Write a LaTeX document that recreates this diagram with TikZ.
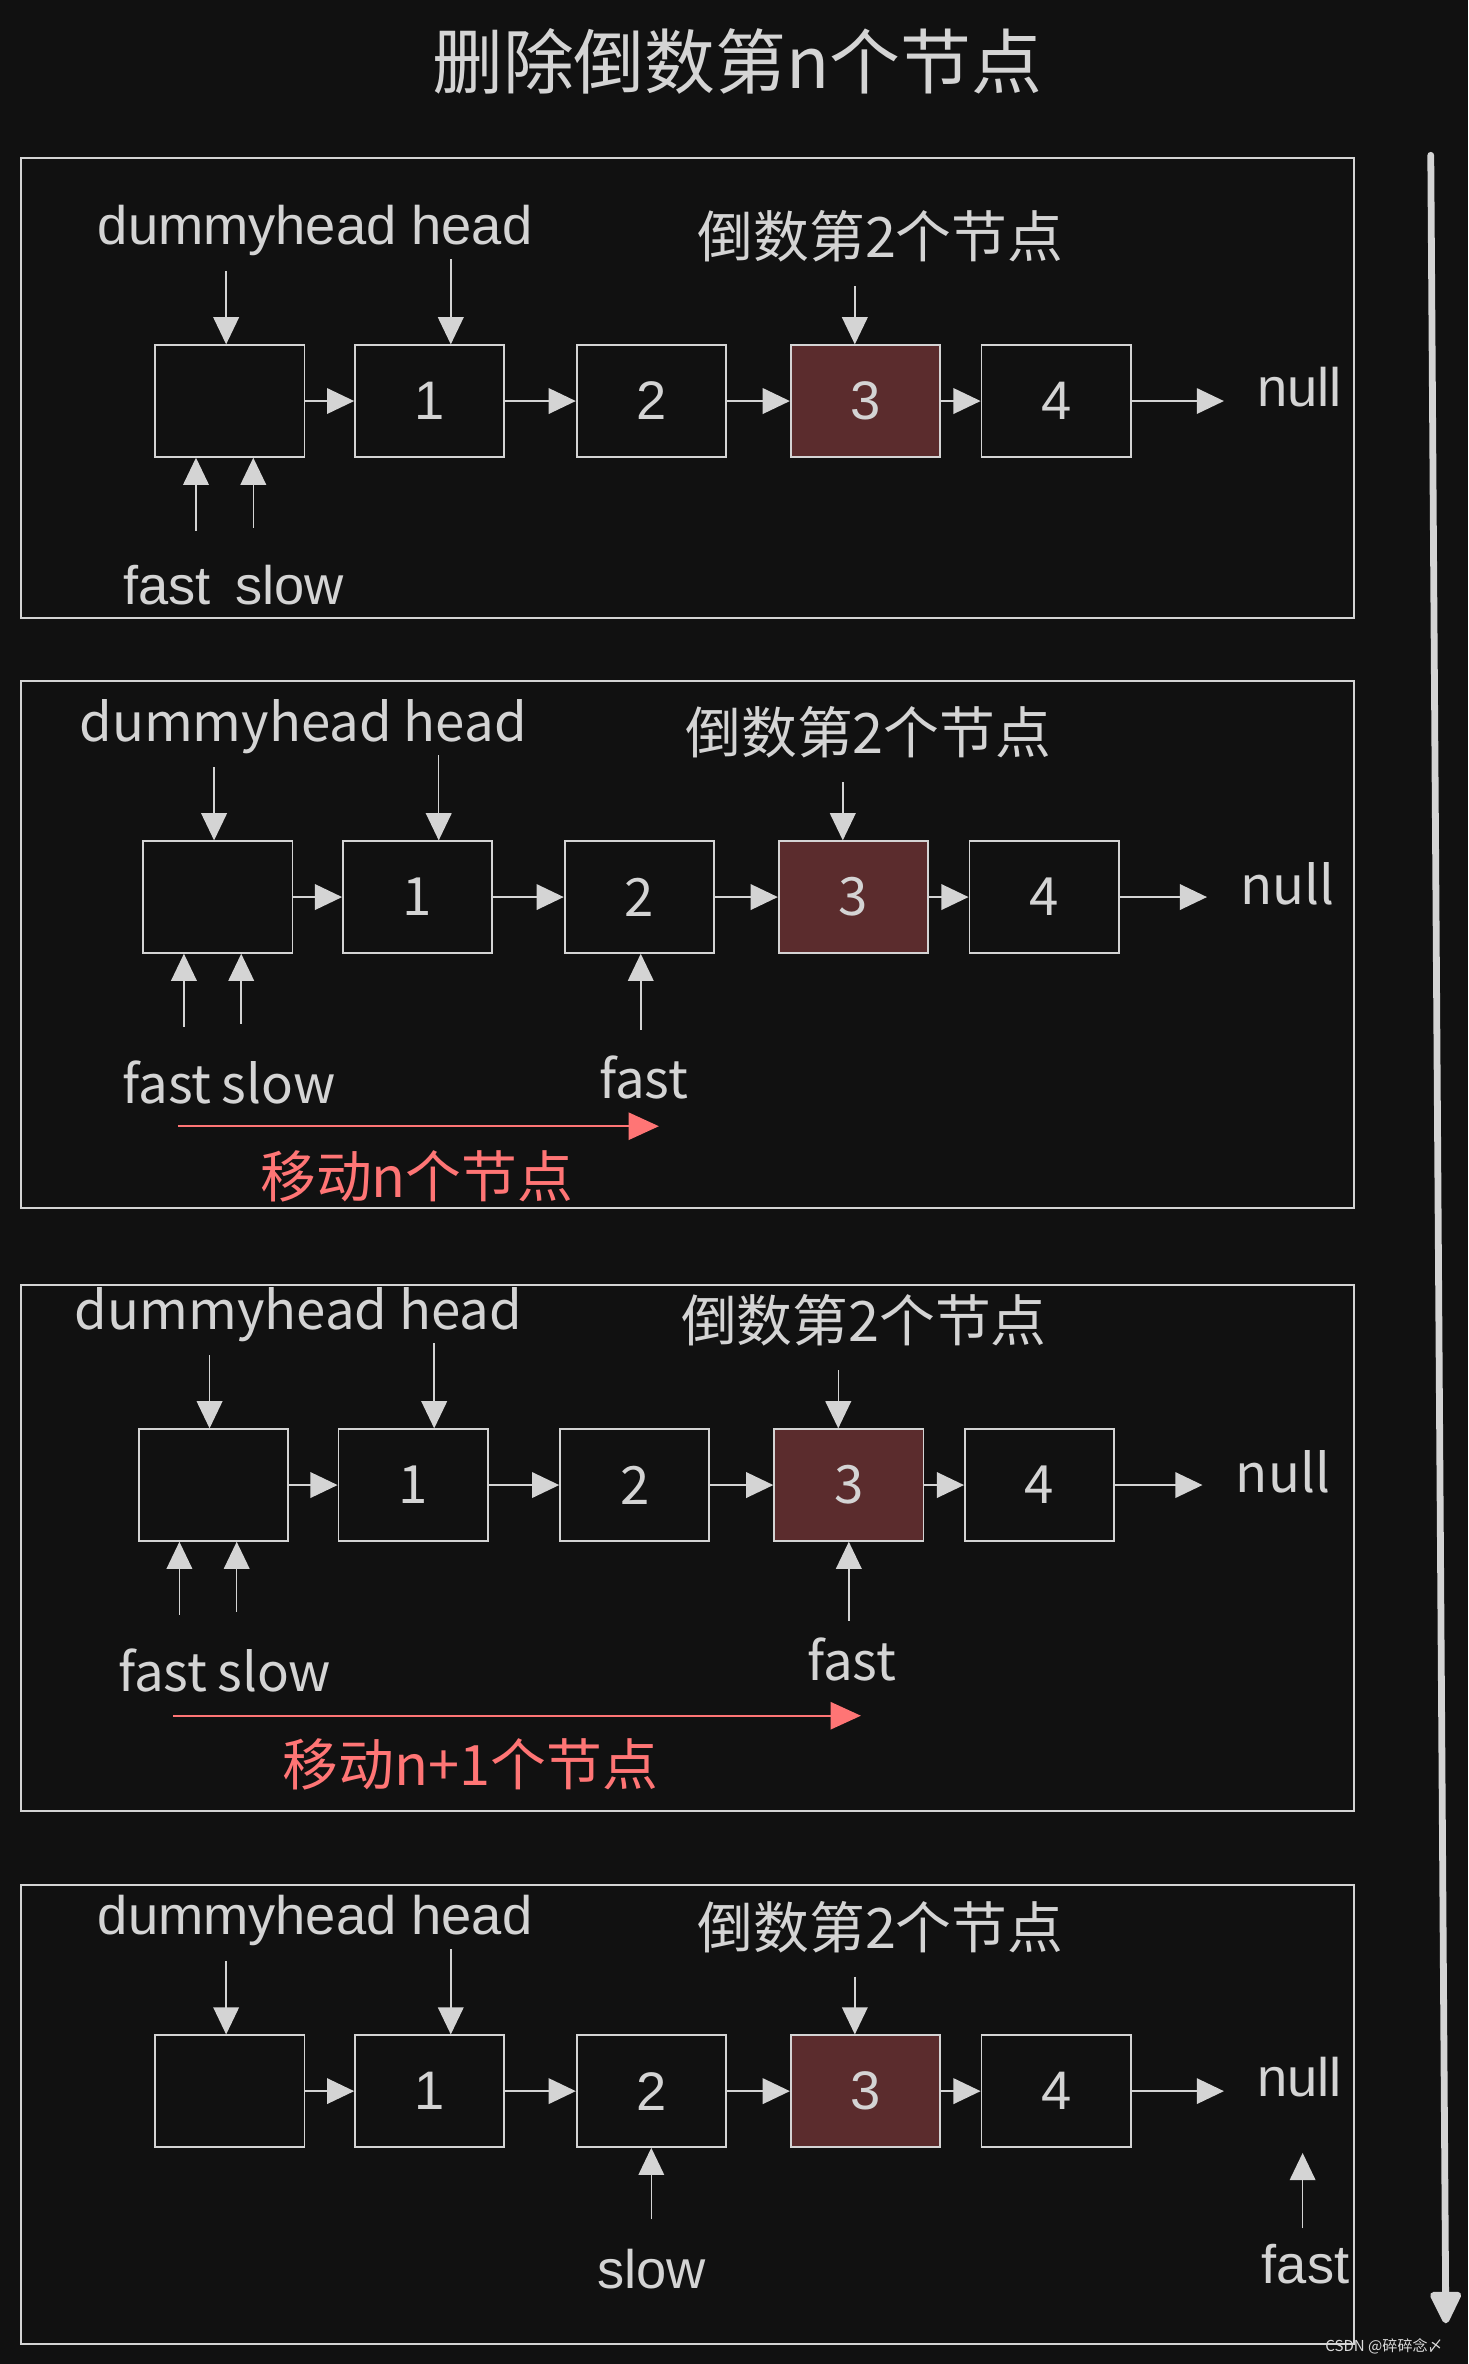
\documentclass[tikz,border=0pt]{standalone}
\usepackage{fontspec}
\setmainfont{Liberation Sans}
\newfontfamily\cjk{Noto Sans CJK SC}
\usetikzlibrary{arrows.meta,calc}

\definecolor{bg}{HTML}{111111}
\definecolor{ink}{HTML}{D4D4D4}
\definecolor{hit}{HTML}{5B2C2D}
\definecolor{mv}{HTML}{FF7575}

\newcommand\pfont{\fontsize{36}{40}\selectfont}

\begin{document}
\begin{tikzpicture}[x=1pt,y=-1pt,
    cell/.style={draw=ink,line width=1.2pt,minimum width=99pt,minimum height=74pt,inner sep=0pt,text=ink,font=\pfont},
    target/.style={cell,fill=hit},
    lbl/.style={inner sep=0pt,text=ink,font=\pfont},
    klbl/.style={inner sep=0pt,text=ink,font=\cjk\fontsize{37}{40}\selectfont},
    mvlbl/.style={inner sep=0pt,text=mv,font=\cjk\fontsize{37}{40}\selectfont},
    ptr/.style={ink,line width=1pt,-{Triangle[length=18pt,width=17pt]}},
    move/.style={mv,line width=1.3pt,-{Triangle[length=20pt,width=18pt]}},
    frame/.style={draw=ink,line width=1.3pt}
  ]
    % background and page size
    \fill[bg] (0,0) rectangle (974,1568);
    \useasboundingbox (0,0) rectangle (974,1568);

    % title
    \node[inner sep=0pt,text=ink,font=\cjk\fontsize{47}{50}\selectfont] (title) at (489,41) {删除倒数第n个节点};

    % panel frames
    \draw[frame] (14,105) rectangle (898,410);
    \draw[frame] (14,452) rectangle (898,801);
    \draw[frame] (14,852) rectangle (898,1201);
    \draw[frame] (14,1250) rectangle (898,1555);

    % step 1: fast and slow on dummyhead
    \node[cell] (a0) at (152.5,266) {};
    \node[cell] (a1) at (285,266) {1};
    \node[cell] (a2) at (432,266) {2};
    \node[target] (a3) at (574,266) {3};
    \node[cell] (a4) at (700.5,266) {4};
    \node[lbl] (anull) at (862,257) {null};
    \foreach \i/\j in {0/1,1/2,2/3,3/4} \draw[ptr] (a\i) -- (a\j);
    \draw[ptr,shorten >=22pt] (a4.east) -- (a4.east -| anull.west);
    \node[lbl] (adh) at (209,153) {dummyhead head};
    \node[klbl] (akth) at (584,157) {倒数第2个节点};
    \coordinate (adhp) at (150,180);
    \coordinate (ahp) at (299,172);
    \coordinate (akp) at (567,190);
    \draw[ptr] (adhp) -- (adhp |- a0.north);
    \draw[ptr] (ahp) -- (ahp |- a1.north);
    \draw[ptr] (akp) -- (akp |- a3.north);
    \coordinate (afp) at (130,352);
    \coordinate (asp) at (168,350);
    \draw[ptr] (afp) -- (afp |- a0.south);
    \draw[ptr] (asp) -- (asp |- a0.south);
    \node[lbl] (afs) at (155,388) {fast\ \,slow};

    % step 2: fast moves n nodes
    \begin{scope}[shift={(-8,329)}]
      \renewcommand\pfont{\cjk\fontsize{35}{40}\selectfont}
      \node[cell] (b0) at (152.5,266) {};
      \node[cell] (b1) at (285,266) {1};
      \node[cell] (b2) at (432,266) {2};
      \node[target] (b3) at (574,266) {3};
      \node[cell] (b4) at (700.5,266) {4};
      \node[lbl] (bnull) at (862,257) {null};
      \foreach \i/\j in {0/1,1/2,2/3,3/4} \draw[ptr] (b\i) -- (b\j);
      \draw[ptr,shorten >=22pt] (b4.east) -- (b4.east -| bnull.west);
      \node[lbl] (bdh) at (209,153) {dummyhead head};
      \node[klbl] (bkth) at (584,157) {倒数第2个节点};
      \coordinate (bdhp) at (150,180);
      \coordinate (bhp) at (299,172);
      \coordinate (bkp) at (567,190);
      \draw[ptr] (bdhp) -- (bdhp |- b0.north);
      \draw[ptr] (bhp) -- (bhp |- b1.north);
      \draw[ptr] (bkp) -- (bkp |- b3.north);
      \coordinate (bfp) at (130,352);
      \coordinate (bsp) at (168,350);
      \draw[ptr] (bfp) -- (bfp |- b0.south);
      \draw[ptr] (bsp) -- (bsp |- b0.south);
      \node[lbl] (bfs) at (160,389) {fast\kern-1pt\ slow};
      \coordinate (bf2p) at (433,354);
      \draw[ptr] (bf2p) -- (bf2p |- b2.south);
      \node[lbl] (bfast) at (435,386) {fast};
      \coordinate (bm0) at (126,418);
      \coordinate (bm1) at (445,418);
      \draw[move] (bm0) -- (bm1);
      \node[mvlbl] (bmove) at (284.5,451) {移动n个节点};
    \end{scope}

    % step 3: fast moves n+1 nodes
    \begin{scope}[shift={(-11,719)}]
      \renewcommand\pfont{\cjk\fontsize{35}{40}\selectfont}
      \node[cell] (c0) at (152.5,266) {};
      \node[cell] (c1) at (285,266) {1};
      \node[cell] (c2) at (432,266) {2};
      \node[target] (c3) at (574,266) {3};
      \node[cell] (c4) at (700.5,266) {4};
      \node[lbl] (cnull) at (862,257) {null};
      \foreach \i/\j in {0/1,1/2,2/3,3/4} \draw[ptr] (c\i) -- (c\j);
      \draw[ptr,shorten >=22pt] (c4.east) -- (c4.east -| cnull.west);
      \node[lbl] (cdh) at (209,153) {dummyhead head};
      \node[klbl] (ckth) at (584,157) {倒数第2个节点};
      \coordinate (cdhp) at (150,180);
      \coordinate (chp) at (299,172);
      \coordinate (ckp) at (567,190);
      \draw[ptr] (cdhp) -- (cdhp |- c0.north);
      \draw[ptr] (chp) -- (chp |- c1.north);
      \draw[ptr] (ckp) -- (ckp |- c3.north);
      \coordinate (cfp) at (130,352);
      \coordinate (csp) at (168,350);
      \draw[ptr] (cfp) -- (cfp |- c0.south);
      \draw[ptr] (csp) -- (csp |- c0.south);
      \node[lbl] (cfs) at (160,389) {fast\kern-1pt\ slow};
      \coordinate (cf2p) at (574,356);
      \draw[ptr] (cf2p) -- (cf2p |- c3.south);
      \node[lbl] (cfast) at (576,382) {fast};
      \coordinate (cm0) at (126,419);
      \coordinate (cm1) at (582,419);
      \draw[move] (cm0) -- (cm1);
      \node[mvlbl] (cmove) at (323,451) {移动n+1个节点};
    \end{scope}

    % step 4: fast reaches null, slow stops before target
    \begin{scope}[shift={(0,1121)}]
      \node[cell] (d0) at (152.5,266) {};
      \node[cell] (d1) at (285,266) {1};
      \node[cell] (d2) at (432,266) {2};
      \node[target] (d3) at (574,266) {3};
      \node[cell] (d4) at (700.5,266) {4};
      \node[lbl] (dnull) at (862,257) {null};
      \foreach \i/\j in {0/1,1/2,2/3,3/4} \draw[ptr] (d\i) -- (d\j);
      \draw[ptr,shorten >=22pt] (d4.east) -- (d4.east -| dnull.west);
      \node[lbl] (ddh) at (209,153) {dummyhead head};
      \node[klbl] (dkth) at (584,157) {倒数第2个节点};
      \coordinate (ddhp) at (150,180);
      \coordinate (dhp) at (299,172);
      \coordinate (dkp) at (567,190);
      \draw[ptr] (ddhp) -- (ddhp |- d0.north);
      \draw[ptr] (dhp) -- (dhp |- d1.north);
      \draw[ptr] (dkp) -- (dkp |- d3.north);
      \coordinate (dsp) at (432,351);
      \draw[ptr] (dsp) -- (dsp |- d2.south);
      \node[lbl] (dslow) at (432,384) {slow};
      \coordinate (dfp) at (864,357);
      \coordinate (dft) at (864,307);
      \draw[ptr] (dfp) -- (dft);
      \node[lbl] (dfast) at (866,381) {fast};
    \end{scope}

    % time line on the right
    \coordinate (tl0) at (949,103);
    \coordinate (tl1) at (959,1541);
    \draw[ink,line width=4.5pt,line cap=round,-{Triangle[length=24pt,width=22pt,round]}] (tl0) -- (tl1);

    % watermark
    \node[inner sep=0pt,text=ink!85,font=\cjk\fontsize{10}{12}\selectfont] (wm) at (918,1556) {CSDN @碎碎念〆};
  \end{tikzpicture}
\end{document}
